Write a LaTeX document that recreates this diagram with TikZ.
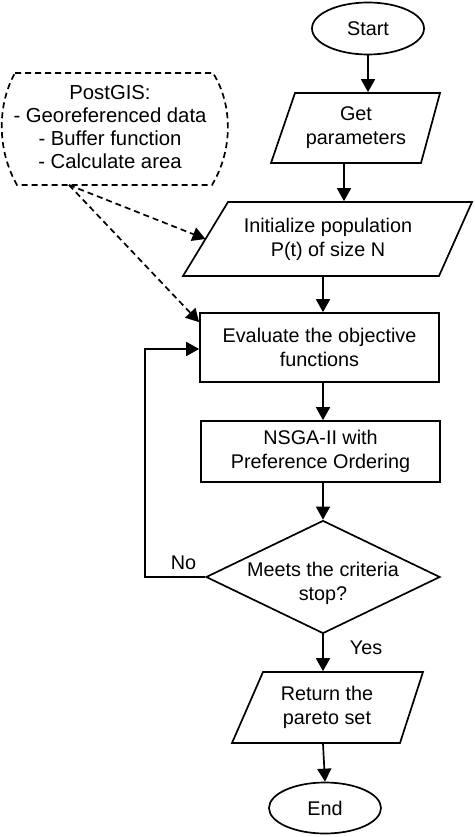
\documentclass[tikz,border=0pt]{standalone}
\usepackage{fontspec}
\setmainfont{Liberation Sans}
\usetikzlibrary{shapes.geometric,arrows.meta}
\begin{document}
\begin{tikzpicture}[x=1pt,y=-1pt,
  line width=1.7pt,
  every node/.style={font=\fontsize{19.8}{24}\selectfont, align=center, inner sep=0pt},
  term/.style={draw, ellipse, minimum width=112pt, minimum height=52pt},
  procbox/.style={draw, rectangle, minimum width=239pt, minimum height=69pt},
  iolabel/.style={rectangle, minimum height=71pt},
  decision/.style={draw, diamond, minimum width=234pt, minimum height=113pt},
  arr/.style={-{Triangle[length=13pt,width=14pt]}},
  dashline/.style={dash pattern=on 6pt off 4pt},
  darr/.style={arr, dashline}]
\useasboundingbox (0,0) rectangle (474,837);
\fill[white] (0,0) rectangle (474,837);

% PostGIS data source
\draw[dashline] (15,73) -- (213,73) .. controls (233,105) and (233,150) .. (212,185)
  -- (17,185) .. controls (-3,150) and (-3,105) .. (15,73) -- cycle;
\node[font=\fontsize{20.3}{23}\selectfont] (postgis) at (110,127)
  {PostGIS:\\- Georeferenced data\\- Buffer function\\- Calculate area};

% terminals
\node[term] (start) at (368,28.5) {Start};
\node[term, minimum height=51pt] (end) at (325,808) {End};

% input/output shapes
\draw (295,93) -- (440,93) -- (421,163) -- (271,163) -- cycle;
\node[iolabel, minimum height=70pt] (get) at (356,128) {Get\\parameters};

\draw (228,202) -- (472,202) -- (439,276) -- (183,276) -- cycle;
\node[iolabel, minimum height=74pt] (init) at (328,239) {Initialize population\\P(t) of size N};
\coordinate (initL) at (205.5,239);

\draw (263,672) -- (423,672) -- (400,743) -- (232,743) -- cycle;
\node[iolabel, minimum height=71pt] (ret) at (327,707.5) {Return the\\pareto set};

% process boxes
\node[procbox] (eval) at (319.5,347.5) {Evaluate the objective\\functions};
\node[procbox, minimum height=61pt] (nsga) at (320.5,451.5) {NSGA-II with\\Preference Ordering};

% decision
\node[decision] (dec) at (323,577) {};
\node[yshift=-6pt] (dectext) at (dec.center) {Meets the criteria\\stop?};

% labels
\node (no) at (183.5,562.5) {No};
\node (yes) at (366,648) {Yes};

% connectors
\draw[arr] (start.south) -- (start.south |- get.north);
\draw[arr] ([xshift=-12pt]get.south) -- ([xshift=-12pt]get.south |- init.north);
\draw[arr] ([xshift=-5pt]init.south) -- ([xshift=-5pt]init.south |- eval.north);
\draw[arr] (dec.north |- eval.south) -- (dec.north |- nsga.north);
\draw[arr] (dec.north |- nsga.south) -- (dec.north);
\draw[arr] (dec.south) -- (dec.south |- ret.north);
\draw[arr] (dec.south |- ret.south) -- (end.north);
\draw[arr] (dec.west) -- ++(-60,0) |- ([yshift=-1.5pt]eval.west);

\coordinate (pgb) at (69,185);
\draw[darr] (pgb) -- (initL);
\draw[darr] (pgb) -- ([yshift=-10pt]eval.north west);
\end{tikzpicture}
\end{document}
